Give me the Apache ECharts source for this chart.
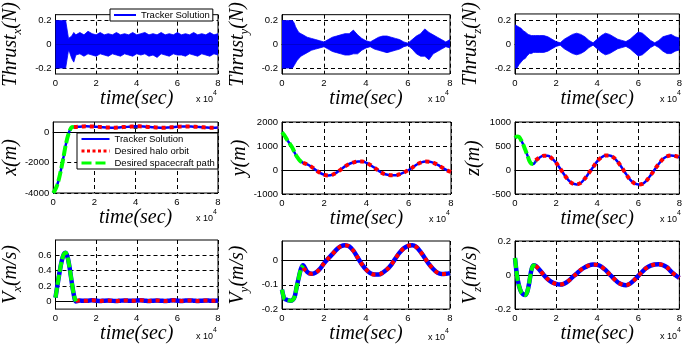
<!DOCTYPE html>
<html>
<head>
<meta charset="utf-8">
<script src="https://cdn.jsdelivr.net/npm/echarts@6/dist/echarts.min.js"></script>
<style>
  html, body { margin: 0; padding: 0; background: #fff; }
  #chart { width: 685px; height: 345px; }
</style>
</head>
<body>
<div id="chart"></div>
<script>
// thrust envelopes (N), upper / lower edge of the blue band
var thrustT = [0, 1000, 2000, 3000, 4000, 5000, 5800, 6400, 7000, 8000, 9000,
  10000, 12000, 14000, 16000, 18000, 20000, 22000, 24000, 26000, 28000, 30000, 32000, 34000, 36000, 38000,
  40000, 42000, 44000, 46000, 48000, 50000, 52000, 54000, 56000, 58000, 60000, 62000, 64000, 66000, 68000,
  70000, 72000, 74000, 76000, 78000, 80000]
var thrustXHi = [0.2, 0.2, 0.2, 0.2, 0.2, 0.2, 0.2, 0.05, 0.04, 0.07, 0.1,
  0.08, 0.1, 0.08, 0.11, 0.09, 0.08, 0.1, 0.08, 0.09, 0.08, 0.1, 0.08, 0.09, 0.08, 0.1,
  0.08, 0.09, 0.1, 0.08, 0.09, 0.08, 0.1, 0.08, 0.09, 0.08, 0.1, 0.08, 0.09, 0.08, 0.1,
  0.08, 0.09, 0.08, 0.1, 0.08, 0.09]
var thrustXLo = [-0.2, -0.2, -0.2, -0.2, -0.2, -0.2, -0.2, -0.05, -0.07, -0.12, -0.15,
  -0.09, -0.08, -0.1, -0.08, -0.09, -0.1, -0.08, -0.09, -0.1, -0.08, -0.09, -0.1, -0.08, -0.09, -0.1,
  -0.08, -0.09, -0.08, -0.1, -0.09, -0.11, -0.08, -0.09, -0.1, -0.08, -0.09, -0.09, -0.1, -0.08, -0.09,
  -0.1, -0.08, -0.09, -0.1, -0.08, -0.09]
var thrustYHi = [0.2, 0.2, 0.2, 0.2, 0.2, 0.2, 0.18, 0.15, 0.13, 0.1, 0.09,
  0.08, 0.06, 0.05, 0.04, 0.03, 0.02, 0.04, 0.06, 0.07, 0.08, 0.09, 0.09, 0.12, 0.08, 0.05,
  0.03, 0.02, 0.04, 0.06, 0.07, 0.07, 0.06, 0.05, 0.04, 0.02, 0.01, 0.04, 0.07, 0.09, 0.13,
  0.1, 0.08, 0.06, 0.04, 0.02, 0.04]
var thrustYLo = [-0.2, -0.2, -0.2, -0.2, -0.2, -0.2, -0.19, -0.16, -0.14, -0.12, -0.1,
  -0.09, -0.07, -0.05, -0.04, -0.03, -0.02, -0.04, -0.06, -0.07, -0.08, -0.09, -0.09, -0.08, -0.08, -0.05,
  -0.03, -0.02, -0.04, -0.05, -0.06, -0.07, -0.06, -0.05, -0.04, -0.02, -0.01, -0.04, -0.08, -0.1, -0.1,
  -0.13, -0.08, -0.06, -0.04, -0.02, -0.03]
var thrustZHi = [0.16, 0.15, 0.14, 0.13, 0.11, 0.1, 0.09, 0.08, 0.08, 0.07, 0.07,
  0.07, 0.07, 0.07, 0.06, 0.04, 0.02, 0.01, 0.04, 0.06, 0.08, 0.09, 0.08, 0.06, 0.03, 0.01,
  0.04, 0.07, 0.09, 0.08, 0.06, 0.04, 0.03, 0.02, 0.04, 0.07, 0.1, 0.09, 0.06, 0.03, 0.01,
  0.03, 0.06, 0.07, 0.08, 0.06, 0.05]
var thrustZLo = [-0.2, -0.2, -0.17, -0.15, -0.13, -0.12, -0.1, -0.09, -0.08, -0.08, -0.07,
  -0.07, -0.07, -0.07, -0.06, -0.04, -0.02, -0.01, -0.04, -0.06, -0.08, -0.09, -0.08, -0.06, -0.03, -0.01,
  -0.04, -0.07, -0.09, -0.08, -0.06, -0.04, -0.03, -0.02, -0.04, -0.07, -0.1, -0.09, -0.06, -0.03, -0.01,
  -0.03, -0.06, -0.08, -0.08, -0.06, -0.05]

// spacecraft path (t <= 1e4) and halo orbit (t >= 1e4)
var pathT = [0, 1000, 2000, 3000, 4000, 5000, 6000, 7000, 8000, 9000, 10000]
var haloT = [10000, 12000, 14000, 16000, 18000, 20000, 22000, 24000, 26000, 28000, 30000, 32000,
  34000, 36000, 38000, 40000, 42000, 44000, 46000, 48000, 50000, 52000, 54000, 56000, 58000, 60000,
  62000, 64000, 66000, 68000, 70000, 72000, 74000, 76000, 78000, 80000]

var xPath = [-4000, -3780, -3450, -2960, -2330, -1640, -900, -330, 100, 320, 330]
var xHalo = [330, 345, 360, 375, 370, 355, 340, 315, 300, 290, 285, 300, 325, 340, 360, 370, 375, 360,
  335, 320, 300, 290, 285, 300, 320, 345, 360, 370, 365, 355, 340, 320, 305, 290, 290, 305]
var yPath = [1570, 1460, 1320, 1180, 1050, 910, 720, 560, 440, 350, 300]
var yHalo = [300, 230, 130, 0, -120, -200, -225, -190, -100, 30, 160, 260, 320, 350, 350, 300, 200, 80,
  -50, -150, -200, -222, -220, -170, -90, 0, 120, 240, 320, 350, 345, 290, 200, 90, -10, -80]
var zPath = [670, 700, 690, 620, 530, 420, 310, 190, 130, 125, 180]
var zHalo = [200, 260, 295, 295, 240, 150, 30, -100, -210, -280, -300, -270, -180, -60, 60, 180, 260, 300,
  300, 260, 170, 50, -80, -200, -275, -300, -290, -220, -110, 10, 130, 230, 285, 300, 290, 265]
var vxPath = [0.05, 0.22, 0.38, 0.52, 0.61, 0.635, 0.57, 0.43, 0.25, 0.09, 0.0]
var vxHalo = [0.01, 0.012, 0.008, 0.01, 0.015, 0.01, 0.006, 0.01, 0.012, 0.008, 0.005, 0.01, 0.013, 0.01,
  0.008, 0.012, 0.015, 0.01, 0.006, 0.01, 0.012, 0.009, 0.005, 0.01, 0.014, 0.01, 0.007, 0.011, 0.013,
  0.01, 0.006, 0.01, 0.012, 0.01, 0.008, 0.011]
var vyPath = [-0.12, -0.155, -0.161, -0.164, -0.166, -0.163, -0.15, -0.108, -0.07, -0.035, -0.02]
var vyHalo = [-0.03, -0.047, -0.055, -0.05, -0.035, -0.012, 0.008, 0.026, 0.045, 0.058, 0.063, 0.058,
  0.04, 0.012, -0.015, -0.037, -0.052, -0.058, -0.058, -0.05, -0.037, -0.018, 0.008, 0.032, 0.05, 0.06,
  0.063, 0.055, 0.035, 0.01, -0.015, -0.035, -0.05, -0.056, -0.055, -0.052]
var vzPath = [0.1, -0.005, -0.065, -0.1, -0.113, -0.117, -0.097, -0.04, 0.031, 0.058, 0.055]
var vzHalo = [0.055, 0.03, 0.0, -0.025, -0.042, -0.052, -0.056, -0.05, -0.035, -0.012, 0.008, 0.03,
  0.045, 0.057, 0.062, 0.06, 0.05, 0.03, 0.005, -0.02, -0.042, -0.055, -0.06, -0.05, -0.03, -0.005,
  0.02, 0.042, 0.055, 0.062, 0.064, 0.058, 0.045, 0.02, 0.0, -0.017]

// lone black marker in the x(m) panel
var markT = [40000]
var markX = [330]

var chart = echarts.init(document.getElementById('chart'))

function pairs(t, v) {
  return t.map(function (x, i) { return [x, v[i]] })
}

// [left, top, width, height] of each panel, row by row
var boxes = [
  [50, 4, 168, 70], [282, 4, 168, 70], [515, 4, 167, 70],
  [50, 122, 168, 71], [282, 122, 169, 72], [515, 122, 167, 72],
  [50, 240, 168, 71], [282, 241, 168, 71], [515, 241, 167, 70]
]
var yCfg = [
  { min: -0.25, max: 0.25, ticks: [-0.2, 0, 0.2], name: '{n|Thrust}{s|x}{n|(N)}' },
  { min: -0.25, max: 0.25, ticks: [-0.2, 0, 0.2], name: '{n|Thrust}{s|y}{n|(N)}' },
  { min: -0.25, max: 0.25, ticks: [-0.2, 0, 0.2], name: '{n|Thrust}{s|z}{n|(N)}' },
  { min: -4000, max: 660, ticks: [-4000, -2000, 0], name: '{n|x(m)}' },
  { min: -1000, max: 2000, ticks: [-1000, 0, 1000, 2000], name: '{n|y(m)}' },
  { min: -500, max: 1000, ticks: [-500, 0, 500, 1000], name: '{n|z(m)}' },
  { min: -0.1, max: 0.8, ticks: [0, 0.2, 0.4, 0.6], name: '{n|V}{s|x}{n|(m/s)}' },
  { min: -0.2, max: 0.08, ticks: [-0.2, -0.1, 0], name: '{n|V}{s|y}{n|(m/s)}' },
  { min: -0.2, max: 0.2, ticks: [-0.2, 0, 0.2], name: '{n|V}{s|z}{n|(m/s)}' }
]
var timeTicks = [0, 20000, 40000, 60000, 80000]

var serif = { fontFamily: 'Liberation Serif', fontStyle: 'italic', color: '#000' }
var dash = { color: '#000', type: [4, 3], width: 1 }

var grids = [], xAxes = [], yAxes = [], graphics = []
boxes.forEach(function (b, i) {
  grids.push({ left: b[0], top: b[1], width: b[2], height: b[3], show: true, borderColor: '#000', borderWidth: 1, backgroundColor: '#fff' })
  xAxes.push({
    gridIndex: i, type: 'value', min: 0, max: 80000,
    name: 'time(sec)', nameLocation: 'middle', nameGap: 12,
    nameTextStyle: Object.assign({ fontSize: 20 }, serif),
    axisLine: { lineStyle: { color: '#000' } },
    axisTick: { inside: true, length: 3, customValues: timeTicks, lineStyle: { color: '#000' } },
    axisLabel: { customValues: timeTicks, color: '#000', fontSize: 9.5, fontFamily: 'Liberation Sans', margin: 4,
      formatter: function (v) { return String(v / 10000) } },
    splitLine: { show: true, lineStyle: dash }
  })
  var c = yCfg[i]
  yAxes.push({
    gridIndex: i, type: 'value', min: c.min, max: c.max,
    name: c.name, nameLocation: 'middle', nameGap: 31,
    nameTextStyle: {
      rich: {
        n: Object.assign({ fontSize: 20 }, serif),
        s: Object.assign({ fontSize: 13, padding: [14, 0, 0, 0] }, serif)
      }
    },
    axisLine: { lineStyle: { color: '#000' } },
    axisTick: { inside: true, length: 3, customValues: c.ticks, lineStyle: { color: '#000' } },
    axisLabel: { customValues: c.ticks, color: '#000', fontSize: 9.5, fontFamily: 'Liberation Sans', margin: 4,
      formatter: function (v) { return String(v) } },
    splitLine: { show: true, lineStyle: dash }
  })
  var right = b[0] + b[2], bottom = b[1] + b[3]
  graphics.push({ type: 'text', left: right - 22, top: bottom + 21,
    style: { text: 'x 10', fill: '#000', font: '9px Liberation Sans' } })
  graphics.push({ type: 'text', left: right - 5, top: bottom + 16,
    style: { text: '4', fill: '#000', font: '7px Liberation Sans' } })
})

var series = []
var traj = [[xPath, xHalo], [yPath, yHalo], [zPath, zHalo], [vxPath, vxHalo], [vyPath, vyHalo], [vzPath, vzHalo]]
traj.forEach(function (d, k) {
  var i = k + 3
  var vel = k >= 3
  series.push({
    type: 'line', name: 'Tracker Solution', xAxisIndex: i, yAxisIndex: i, symbol: 'none', smooth: 0.3,
    data: pairs(pathT.concat(haloT.slice(1)), d[0].concat(d[1].slice(1))),
    lineStyle: { color: '#0000ff', width: vel ? 4.5 : 2.5 }
  })
  series.push({
    type: 'line', name: 'Desired halo orbit', xAxisIndex: i, yAxisIndex: i, symbol: 'none', smooth: 0.3,
    data: pairs(haloT, d[1]),
    lineStyle: { color: '#ff0000', width: 4, type: [4, 4], cap: 'butt' }
  })
  series.push({
    type: 'line', name: 'Desired spacecraft path', xAxisIndex: i, yAxisIndex: i, symbol: 'none', smooth: 0.3,
    data: pairs(pathT, d[0]),
    lineStyle: { color: '#00ff00', width: 4, type: [10, 3] }
  })
})
series.push({
  type: 'scatter', xAxisIndex: 3, yAxisIndex: 3, symbol: 'rect', symbolSize: 4,
  itemStyle: { color: '#000' }, data: pairs(markT, markX)
})

// thrust: fill from each envelope edge to zero, which together cover the band
var bands = [[thrustXHi, thrustXLo], [thrustYHi, thrustYLo], [thrustZHi, thrustZLo]]
bands.forEach(function (b, i) {
  b.forEach(function (edge) {
    series.push({
      type: 'line', name: 'Tracker Solution', xAxisIndex: i, yAxisIndex: i,
      symbol: 'none', silent: true, lineStyle: { width: 0.8, color: '#0000ff' },
      areaStyle: { color: '#0000ff', opacity: 1, origin: 0 },
      data: pairs(thrustT, edge)
    })
  })
})

var legendText = { color: '#000', fontSize: 9.5, fontFamily: 'Liberation Sans' }
var noMark = { opacity: 0, borderWidth: 0 }
chart.setOption({
  animation: false,
  backgroundColor: '#fff',
  grid: grids,
  xAxis: xAxes,
  yAxis: yAxes,
  legend: [
    {
      left: 110, top: 9, selectedMode: false, itemWidth: 22, itemHeight: 8, itemGap: 2,
      padding: [1, 3], backgroundColor: '#fff', borderColor: '#000', borderWidth: 1,
      textStyle: legendText,
      data: [{ name: 'Tracker Solution', itemStyle: noMark, lineStyle: { color: '#0000ff', width: 2, type: 'solid' } }]
    },
    {
      left: 77, top: 133, orient: 'vertical', selectedMode: false, itemWidth: 28, itemHeight: 10, itemGap: 2,
      padding: [1, 3], backgroundColor: '#fff', borderColor: '#000', borderWidth: 1,
      textStyle: legendText,
      data: [
        { name: 'Tracker Solution', itemStyle: noMark, lineStyle: { color: '#0000ff', width: 2, type: 'solid' } },
        { name: 'Desired halo orbit', itemStyle: noMark, lineStyle: { color: '#ff0000', width: 3, type: [3, 2.5] } },
        { name: 'Desired spacecraft path', itemStyle: noMark, lineStyle: { color: '#00ff00', width: 3, type: [10, 4] } }
      ]
    }
  ],
  graphic: graphics,
  series: series
})
</script>
</body>
</html>
